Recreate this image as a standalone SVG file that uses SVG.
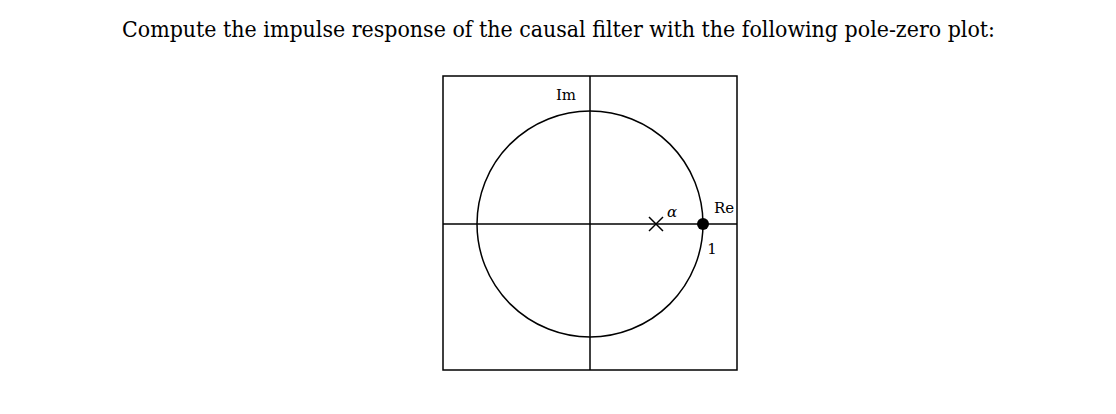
<svg xmlns="http://www.w3.org/2000/svg" width="1116" height="414" viewBox="0 0 1116 414">
<style>
.l{stroke:#000;stroke-width:1.5;fill:none}
.t{font-family:"DejaVu Serif","Liberation Serif",serif;fill:#000}
</style>
<rect width="1116" height="414" fill="#fff"/>
<text class="t" x="122" y="37" font-size="22" textLength="873" lengthAdjust="spacingAndGlyphs">Compute the impulse response of the causal filter with the following pole-zero plot:</text>
<g id="axes">
<rect class="l" x="443" y="76" width="294" height="294"/>
<line class="l" x1="443" y1="224" x2="737" y2="224"/>
<line class="l" x1="590" y1="76" x2="590" y2="370"/>
</g>
<g id="unit-circle"><circle class="l" cx="590" cy="224" r="113"/></g>
<g id="pole">
<line class="l" stroke-width="1" x1="649" y1="217" x2="663" y2="231"/>
<line class="l" stroke-width="1" x1="649" y1="231" x2="663" y2="217"/>
<text class="t" x="672" y="217" font-size="15" font-style="italic" text-anchor="middle">α</text>
</g>
<g id="zero"><circle cx="703" cy="224" r="6" fill="#000"/></g>
<g id="labels">
<text class="t" x="566" y="100" font-size="15" text-anchor="middle">Im</text>
<text class="t" x="724" y="213" font-size="15" text-anchor="middle">Re</text>
<text class="t" x="712" y="254" font-size="15" text-anchor="middle">1</text>
</g>
</svg>
